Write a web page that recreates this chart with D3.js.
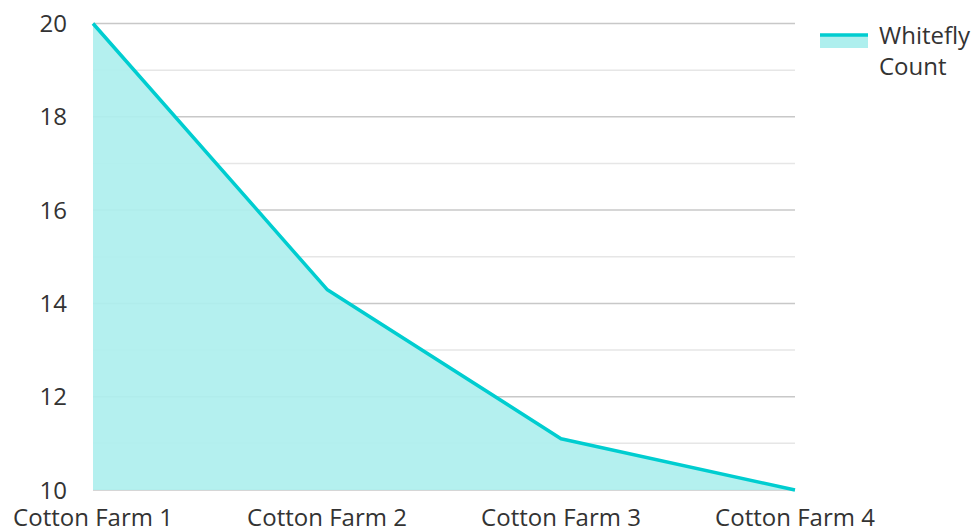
<!DOCTYPE html>
<html>
<head>
<meta charset="utf-8">
<script src="https://cdn.jsdelivr.net/npm/d3@7"></script>
<style>
  body { margin: 0; background: #fff; }
  svg { display: block; font-family: "Open Sans", sans-serif; }
</style>
</head>
<body>
<div id="chart"></div>
<script>
const farms = ["Cotton Farm 1", "Cotton Farm 2", "Cotton Farm 3", "Cotton Farm 4"];
const whiteflyCount = [20, 14.3, 11.1, 10];
const majorTicks = [10, 12, 14, 16, 18, 20];
const minorTicks = [11, 13, 15, 17, 19];
const seriesName = ["Whitefly", "Count"];

const W = 978, H = 531;
const margin = { top: 23.5, right: 183, bottom: 41, left: 93 };
const lineColor = "#00cdd0";
const fillColor = "#aeefee";

const svg = d3.select("#chart").append("svg")
  .attr("width", W)
  .attr("height", H);

const x = d3.scalePoint()
  .domain(farms)
  .range([margin.left, W - margin.right]);

const y = d3.scaleLinear()
  .domain([10, 20])
  .range([H - margin.bottom, margin.top]);

// minor gridlines
svg.append("g")
  .selectAll("line")
  .data(minorTicks)
  .join("line")
  .attr("x1", margin.left)
  .attr("x2", W - margin.right)
  .attr("y1", d => y(d))
  .attr("y2", d => y(d))
  .attr("stroke", "#e6e6e6")
  .attr("stroke-width", 1.5);

// major gridlines
svg.append("g")
  .selectAll("line")
  .data(majorTicks)
  .join("line")
  .attr("x1", margin.left)
  .attr("x2", W - margin.right)
  .attr("y1", d => y(d))
  .attr("y2", d => y(d))
  .attr("stroke", "#c8c8c8")
  .attr("stroke-width", 1.5);

const data = farms.map((f, i) => ({ farm: f, value: whiteflyCount[i] }));

const area = d3.area()
  .x(d => x(d.farm))
  .y0(y(10))
  .y1(d => y(d.value));

const line = d3.line()
  .x(d => x(d.farm))
  .y(d => y(d.value));

svg.append("path")
  .datum(data)
  .attr("fill", fillColor)
  .attr("fill-opacity", 0.93)
  .attr("d", area);

svg.append("path")
  .datum(data)
  .attr("fill", "none")
  .attr("stroke", lineColor)
  .attr("stroke-width", 3.5)
  .attr("stroke-linejoin", "round")
  .attr("d", line);

// y axis labels
svg.append("g")
  .selectAll("text")
  .data(majorTicks)
  .join("text")
  .attr("x", 67)
  .attr("y", d => y(d) + 8.5)
  .attr("text-anchor", "end")
  .attr("font-size", 24)
  .attr("fill", "#333")
  .text(d => d);

// x axis labels
svg.append("g")
  .selectAll("text")
  .data(farms)
  .join("text")
  .attr("x", d => x(d))
  .attr("y", 526)
  .attr("text-anchor", "middle")
  .attr("font-size", 24)
  .attr("fill", "#333")
  .text(d => d);

// legend
const legend = svg.append("g").attr("transform", "translate(820,0)");
legend.append("rect")
  .attr("x", 0).attr("y", 34)
  .attr("width", 48).attr("height", 14)
  .attr("fill", fillColor);
legend.append("line")
  .attr("x1", 0).attr("x2", 48)
  .attr("y1", 35).attr("y2", 35)
  .attr("stroke", lineColor)
  .attr("stroke-width", 3.5);
legend.append("text")
  .attr("x", 59)
  .attr("y", 44)
  .attr("font-size", 24)
  .attr("fill", "#333")
  .selectAll("tspan")
  .data(seriesName)
  .join("tspan")
  .attr("x", 59)
  .attr("dy", (d, i) => i === 0 ? 0 : 31)
  .text(d => d);
</script>
</body>
</html>
